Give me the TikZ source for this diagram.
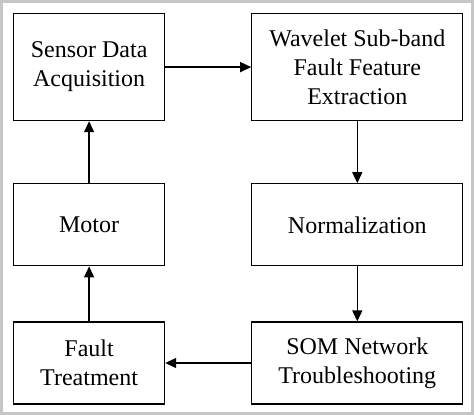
\documentclass[tikz,border=0pt]{standalone}
\usepackage{fontspec}
\setmainfont{Liberation Serif}
\usetikzlibrary{arrows.meta,positioning}

\begin{document}
\begin{tikzpicture}[x=1pt,y=1pt,font=\fontsize{24pt}{29pt}\selectfont,>={Triangle[length=11pt,width=10pt]},
 stage/.style={draw,line width=1.2pt,align=center,inner sep=0pt},
 flow/.style={->,line width=1.3pt}]
 \useasboundingbox (0,0) rectangle (474,-415);
 \draw[gray!45,line width=3pt] (1.5,-1.5) rectangle (472.5,-413.5);
 \node[stage,anchor=north west,minimum width=151pt,minimum height=107pt] (sensor) at (13,-13)
 {Sensor Data\\Acquisition};
 \node[stage,right=86pt of sensor,minimum width=211pt,minimum height=107pt] (wavelet)
 {Wavelet Sub-band\\Fault Feature\\Extraction};
 \node[stage,below=62pt of sensor,minimum width=151pt,minimum height=82pt] (motor)
 {Motor};
 \node[stage,below=62pt of wavelet,minimum width=211pt,minimum height=82pt] (norm)
 {Normalization};
 \node[stage,below=55pt of motor,minimum width=151pt,minimum height=82pt] (fault)
 {Fault\\Treatment};
 \node[stage,below=55pt of norm,minimum width=211pt,minimum height=82pt] (som)
 {SOM Network\\Troubleshooting};
 \draw[flow] (sensor) -- (wavelet);
 \draw[flow] (wavelet) -- (norm);
 \draw[flow] (norm) -- (som);
 \draw[flow] (som) -- (fault);
 \draw[flow] (fault) -- (motor);
 \draw[flow] (motor) -- (sensor);
\end{tikzpicture}
\end{document}
